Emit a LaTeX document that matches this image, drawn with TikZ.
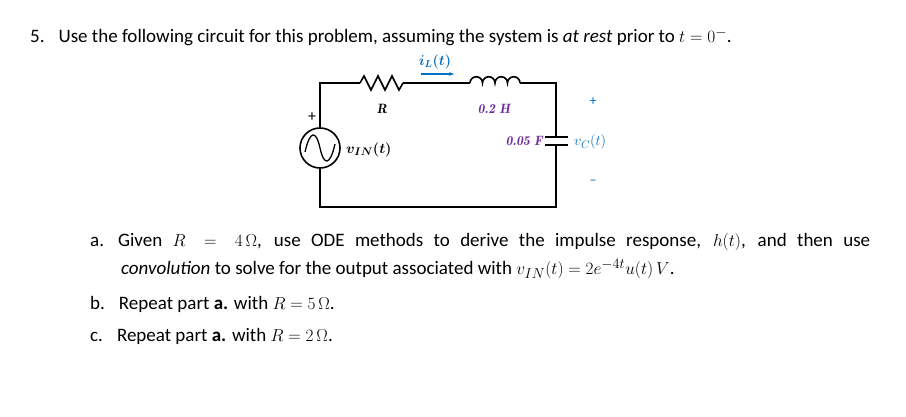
\documentclass[tikz,border=0pt]{standalone}
\usepackage{fontspec}
\setmainfont{Carlito}
\usepackage{amsmath}
\usetikzlibrary{decorations.pathmorphing,arrows.meta}
\definecolor{cblue}{RGB}{0,112,192}
\definecolor{cpurp}{RGB}{112,48,160}
\begin{document}
\begin{tikzpicture}[x=1pt,y=-1pt,
  wire/.style={line width=1.6pt},
  txt/.style={anchor=base west,inner sep=0,font=\fontsize{19}{22}\selectfont},
  lbl/.style={inner sep=0,font=\fontsize{13.5}{14}\selectfont\bfseries\itshape}]
\useasboundingbox (0,0) rectangle (906,417);
\node[txt] (q) at (30,43) {5.\hspace{14pt}Use the following circuit for this problem, assuming the system is \textit{at rest} prior to $t=0^{-}$.};
% circuit
\coordinate (tl) at (320,83); \coordinate (tr) at (556,83);
\coordinate (bl) at (320,207); \coordinate (br) at (556,207);
\node[circle,draw,line width=1.6pt,minimum size=40pt,inner sep=0] (src) at (320,148) {};
\draw[line width=1.3pt] (305,152) .. controls (310,130) and (316,130) .. (320,148) .. controls (324,166) and (330,166) .. (335,144);
\draw[wire] (src.north) -- (tl) -- (360,83);
\draw[wire] (360,83) -- (364,76) -- (371,90) -- (378,76) -- (385,90) -- (392,76) -- (399,90) -- (403,83);
\draw[wire] (403,83) -- (470,83);
\draw[wire] (470,83) arc (180:360:6.25) arc (180:360:6.25) arc (180:360:6.25) arc (180:360:6.25);
\draw[wire] (520,83) -- (tr) -- (556,137);
\draw[wire] (545,137) -- (568,137);
\draw[wire] (545,145) -- (568,145);
\draw[wire] (556,145) -- (br) -- (bl) -- (src.south);
\node[inner sep=0,font=\fontsize{16}{16}\selectfont] (pl) at (312,117) {+};
\node[lbl] (rl) at (382,109) {\fontfamily{lmr}\selectfont R};
\node[lbl,text=cpurp] (ll) at (494,109) {\fontfamily{lmr}\selectfont 0.2 H};
\node[lbl,text=cpurp,anchor=east] (cl) at (543,141) {\fontfamily{lmr}\selectfont 0.05 F};
\node[inner sep=0,anchor=west,font=\fontsize{15}{15}\selectfont] (vin) at (346,150) {$\boldsymbol{v_{IN}(t)}$};
\node[inner sep=0,anchor=west,text=cblue,font=\fontsize{15}{15}\selectfont] (vc) at (574,142) {$v_C(t)$};
\node[inner sep=0,text=cblue,font=\fontsize{14}{14}\selectfont] (vp) at (593,102) {+};
\node[inner sep=0,text=cblue,font=\fontsize{14}{14}\selectfont] (vm) at (593,182) {--};
\node[inner sep=0,text=cblue,font=\fontsize{14}{14}\selectfont] (il) at (435,62) {$\boldsymbol{i_L(t)}$};
\draw[cblue,line width=1.2pt,-{Stealth[length=5pt]}] (421,74) -- (454,74);
% questions
\node[txt] (a) at (90,247) {\makebox[780pt][s]{a.\hspace{14pt}Given $R=4\,\Omega$, use ODE methods to derive the impulse response, $h(t)$, and then use}};
\node[txt] (a2) at (121,275) {\textit{convolution} to solve for the output associated with $v_{IN}(t)=2e^{-4t}u(t)\,V$.};
\node[txt] (b) at (90,309) {b.\hspace{14pt}Repeat part \textbf{a.} with $R=5\,\Omega$.};
\node[txt] (c) at (90,341) {c.\hspace{14pt}Repeat part \textbf{a.} with $R=2\,\Omega$.};
\end{tikzpicture}
\end{document}
